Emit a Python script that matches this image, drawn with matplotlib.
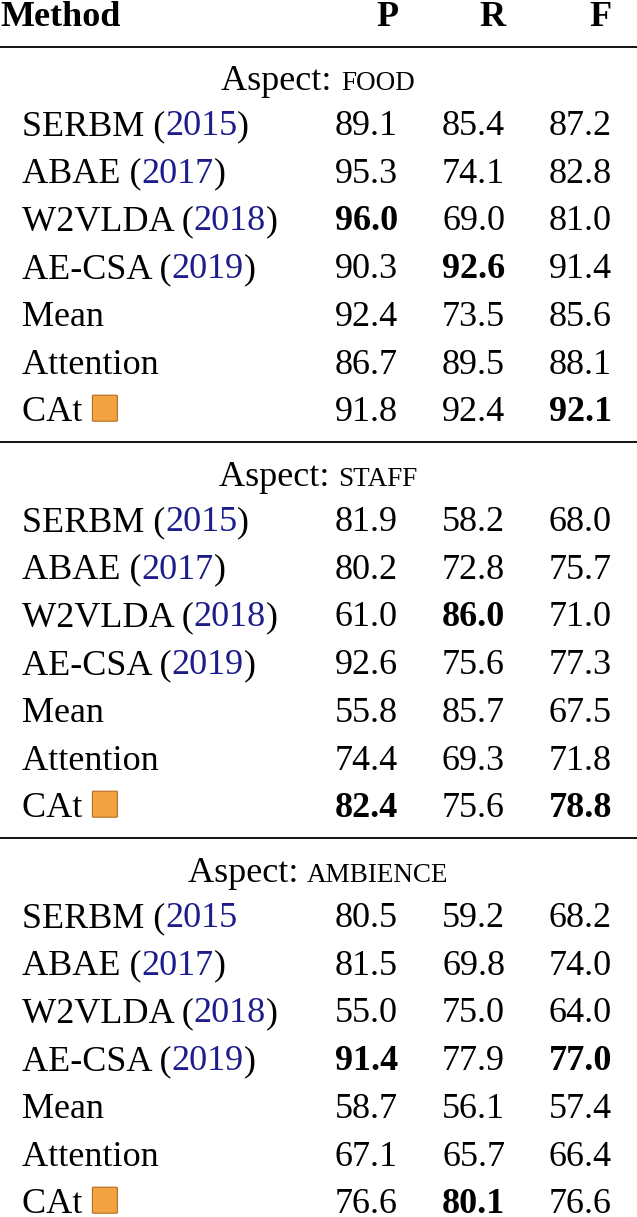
import matplotlib
matplotlib.use("Agg")
import matplotlib.pyplot as plt
from matplotlib.patches import FancyBboxPatch

W, H, DPI = 637, 1217, 100
FONT = "Liberation Serif"
LINK = "#1c1c8a"

methods = ["SERBM", "ABAE", "W2VLDA", "AE-CSA", "Mean", "Attention", "CAt"]
years = ["2015", "2017", "2018", "2019", None, None, None]
aspects = ["FOOD", "STAFF", "AMBIENCE"]

food_p = [89.1, 95.3, 96.0, 90.3, 92.4, 86.7, 91.8]
food_r = [85.4, 74.1, 69.0, 92.6, 73.5, 89.5, 92.4]
food_f = [87.2, 82.8, 81.0, 91.4, 85.6, 88.1, 92.1]
staff_p = [81.9, 80.2, 61.0, 92.6, 55.8, 74.4, 82.4]
staff_r = [58.2, 72.8, 86.0, 75.6, 85.7, 69.3, 75.6]
staff_f = [68.0, 75.7, 71.0, 77.3, 67.5, 71.8, 78.8]
amb_p = [80.5, 81.5, 55.0, 91.4, 58.7, 67.1, 76.6]
amb_r = [59.2, 69.8, 75.0, 77.9, 56.1, 65.7, 80.1]
amb_f = [68.2, 74.0, 64.0, 77.0, 57.4, 66.4, 76.6]

# (row index, column index) of bold cells per aspect
bold_food = [(2, 0), (3, 1), (6, 2)]
bold_staff = [(2, 1), (6, 0), (6, 2)]
bold_amb = [(3, 0), (3, 2), (6, 1)]

blocks = [
    (aspects[0], [food_p, food_r, food_f], bold_food),
    (aspects[1], [staff_p, staff_r, staff_f], bold_staff),
    (aspects[2], [amb_p, amb_r, amb_f], bold_amb),
]

fig = plt.figure(figsize=(W / DPI, H / DPI), dpi=DPI)
ax = fig.add_axes([0, 0, 1, 1])
ax.set_xlim(0, W)
ax.set_ylim(H, 0)
ax.axis("off")
renderer = fig.canvas.get_renderer()

FS = 26
col_x = [398, 505, 612]
heading_y = [90, 486, 882]
rules_y = [47, 442, 838]
STEP = 47.7


def text_run(x, y, pieces):
    """Draw consecutive text pieces on one baseline, return end x."""
    for s, color in pieces:
        t = ax.text(x, y, s, fontsize=FS, family=FONT, color=color, va="baseline")
        x += t.get_window_extent(renderer).width
    return x


# header
ax.text(0, 26, "Method", fontsize=FS, family=FONT, weight="bold", va="baseline")
for cx, lab in zip(col_x, ["P", "R", "F"]):
    ax.text(cx, 26, lab, fontsize=FS, family=FONT, weight="bold", va="baseline", ha="right")
for ry in rules_y:
    ax.plot([0, W], [ry, ry], color="black", lw=1.3)

for bi, (asp, cols, bolds) in enumerate(blocks):
    hy = heading_y[bi]
    t = ax.text(0, hy, "Aspect: ", fontsize=FS, family=FONT, va="baseline")
    w1 = t.get_window_extent(renderer).width
    t2 = ax.text(0, hy, asp, fontsize=FS * 0.75, family=FONT, va="baseline")
    w2 = t2.get_window_extent(renderer).width
    start = 318 - (w1 + w2) / 2
    t.set_x(start)
    t2.set_x(start + w1)

    for ri, m in enumerate(methods):
        ry = hy + 45 + ri * STEP
        if years[ri]:
            close = ")" if not (bi == 2 and ri == 0) else ""
            end = text_run(22, ry, [(m + " (", "black"), (years[ri], LINK), (close, "black")])
        else:
            end = text_run(22, ry, [(m + " ", "black")])
        if m == "CAt":
            ax.add_patch(FancyBboxPatch((end + 2, ry - 25), 23, 24,
                                        boxstyle="round,pad=1", fc="#f0a340", ec="#b86a1e", lw=0.8))
        for ci in range(3):
            wt = "bold" if (ri, ci) in bolds else "normal"
            ax.text(col_x[ci], ry, f"{cols[ci][ri]:.1f}", fontsize=FS, family=FONT,
                    weight=wt, va="baseline", ha="right")

fig.savefig("out.png", dpi=DPI)
